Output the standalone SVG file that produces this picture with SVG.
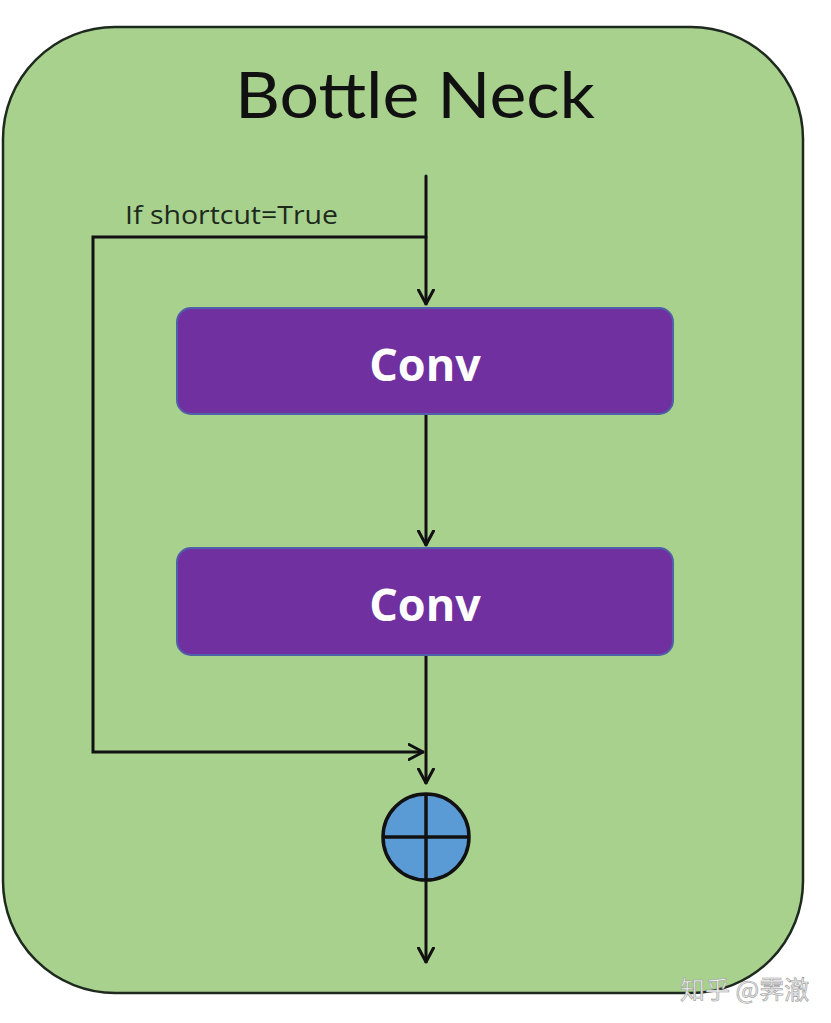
<svg xmlns="http://www.w3.org/2000/svg" width="831" height="1023" viewBox="0 0 831 1023">
<style>
.ln{fill:none;stroke:#111;stroke-width:3;stroke-linecap:round}
.conv{fill:#7030a0;stroke:#4f5fa8;stroke-width:2}
.convt{font-family:"Open Sans","DejaVu Sans",sans-serif;font-weight:bold;font-size:45px;fill:#fff;text-anchor:middle}
</style>
<defs>
<marker id="arr" viewBox="0 0 16 18" refX="15" refY="9" markerWidth="16" markerHeight="18" markerUnits="userSpaceOnUse" orient="auto">
<path d="M1 1.5 L15 9 L1 16.5" fill="none" stroke="#111" stroke-width="3" stroke-linecap="round" stroke-linejoin="round"/>
</marker>
</defs>
<rect width="831" height="1023" fill="#fff"/>
<g id="container">
<rect x="3" y="27" width="800" height="966" rx="112" ry="112" fill="#a9d18e" stroke="#1f2a1f" stroke-width="2.5"/>
<text x="415" y="118" font-family="Lato,'Open Sans',sans-serif" font-size="64" fill="#111" text-anchor="middle" textLength="360" lengthAdjust="spacingAndGlyphs">Bottle Neck</text>
</g>
<g id="connectors">
<line class="ln" x1="426" y1="176" x2="426" y2="304" marker-end="url(#arr)"/>
<polyline class="ln" points="426,237 93,237 93,752 423,752" marker-end="url(#arr)"/>
<line class="ln" x1="426" y1="414" x2="426" y2="545" marker-end="url(#arr)"/>
<line class="ln" x1="426" y1="655" x2="426" y2="783" marker-end="url(#arr)"/>
<line class="ln" x1="426" y1="880" x2="426" y2="962" marker-end="url(#arr)"/>
<text x="125" y="224" font-family="'Open Sans',Lato,sans-serif" font-size="26" fill="#1c2a1c" textLength="213" lengthAdjust="spacingAndGlyphs">If shortcut=True</text>
</g>
<g id="conv1">
<rect class="conv" x="177" y="308" width="496" height="106" rx="14"/>
<text class="convt" x="425" y="381">Conv</text>
</g>
<g id="conv2">
<rect class="conv" x="177" y="548" width="496" height="107" rx="14"/>
<text class="convt" x="425" y="621">Conv</text>
</g>
<g id="add">
<circle cx="426" cy="837" r="43" fill="#5b9bd5" stroke="#111" stroke-width="3.5"/>
<line x1="383" y1="837" x2="469" y2="837" stroke="#111" stroke-width="3.5"/>
<line x1="426" y1="794" x2="426" y2="880" stroke="#111" stroke-width="3.5"/>
</g>
<g id="watermark">
<text x="680" y="999" font-family="'Noto Sans CJK SC','Noto Sans',sans-serif" font-size="25" fill="#eeeeee" stroke="#999" stroke-width="0.6">知乎 @霁澈</text>
</g>
</svg>
